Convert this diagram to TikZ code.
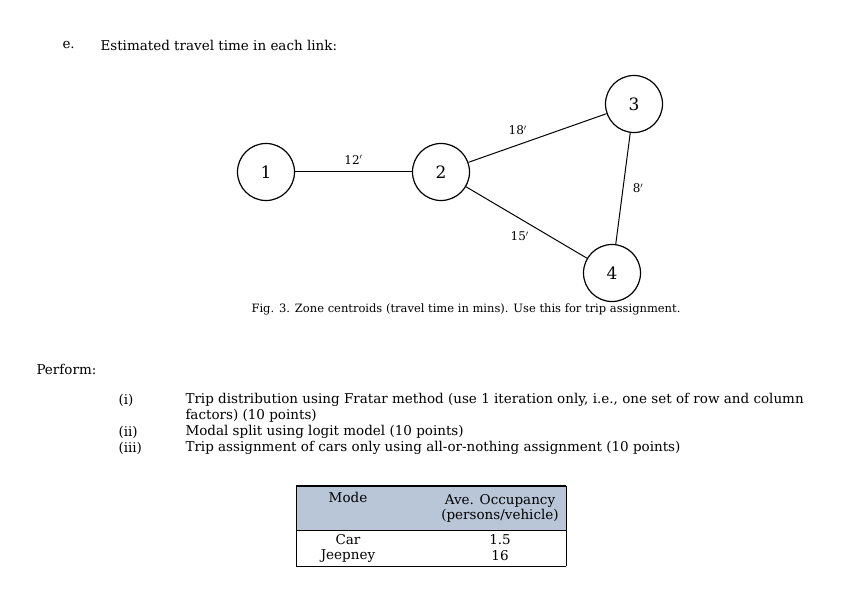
\documentclass[tikz,border=0pt]{standalone}
\usepackage{fontspec}
\setmainfont{DejaVu Serif}
\usetikzlibrary{positioning}
\definecolor{headblue}{RGB}{184,198,216}
\begin{document}
\begin{tikzpicture}[x=1pt,y=-1pt,line width=1pt,font=\fontsize{13.5}{16}\selectfont]
\tikzset{zone/.style = {shape=circle, draw, minimum size=57pt, line width=1.2pt, font=\fontsize{17}{20}\selectfont},
  lbl/.style = {font=\fontsize{12}{14}\selectfont},
  txt/.style = {anchor=west, inner sep=0pt}}
\useasboundingbox (0,0) rectangle (849,593);

%zones
\node[zone] (z1) at (266,172) {1};
\node[zone] (z2) at (441,172) {2};
\node[zone] (z3) at (634,104) {3};
\node[zone] (z4) at (612,273) {4};

%links
\draw (z1) -- node[lbl,above=4pt] {12$'$} (z2);
\draw (z2) -- node[lbl,above left=2pt and 0pt,pos=0.45] {18$'$} (z3);
\draw (z3) -- node[lbl,right=6pt] {8$'$} (z4);
\draw (z2) -- node[lbl,below left=2pt and 0pt,pos=0.55] {15$'$} (z4);

%texts
\node[txt] (e) at (62,45) {e.};
\node[txt] (etxt) at (100,45) {Estimated travel time in each link:};
\node[font=\fontsize{11.5}{14}\selectfont] (cap) at (466,309) {Fig. 3. Zone centroids (travel time in mins). Use this for trip assignment.};
\node[txt] (perf) at (36,369) {Perform:};
\node[txt] (i) at (118,400) {(i)};
\node[txt] (ti) at (185,400) {Trip distribution using Fratar method (use 1 iteration only, i.e., one set of row and column};
\node[txt] (ti2) at (185,416) {factors) (10 points)};
\node[txt] (ii) at (118,432) {(ii)};
\node[txt] (tii) at (185,432) {Modal split using logit model (10 points)};
\node[txt] (iii) at (118,448) {(iii)};
\node[txt] (tiii) at (185,448) {Trip assignment of cars only using all-or-nothing assignment (10 points)};

%table
\fill[headblue] (296,486) rectangle (566,530);
\draw[line width=1.5pt] (296,486) -- (566,486);
\draw[line width=0.6pt] (296,486) -- (296,566) (566,486) -- (566,566) (296,530) -- (566,530) (296,566) -- (566,566);
\node (hmode) at (348,497) {Mode};
\node[align=center,font=\fontsize{13.5}{15}\selectfont] (hocc) at (500,508) {Ave. Occupancy\\(persons/vehicle)};
\node (car) at (348,540) {Car};
\node (carv) at (500,540) {1.5};
\node (jeep) at (348,556) {Jeepney};
\node (jeepv) at (500,556) {16};
\end{tikzpicture}
\end{document}
